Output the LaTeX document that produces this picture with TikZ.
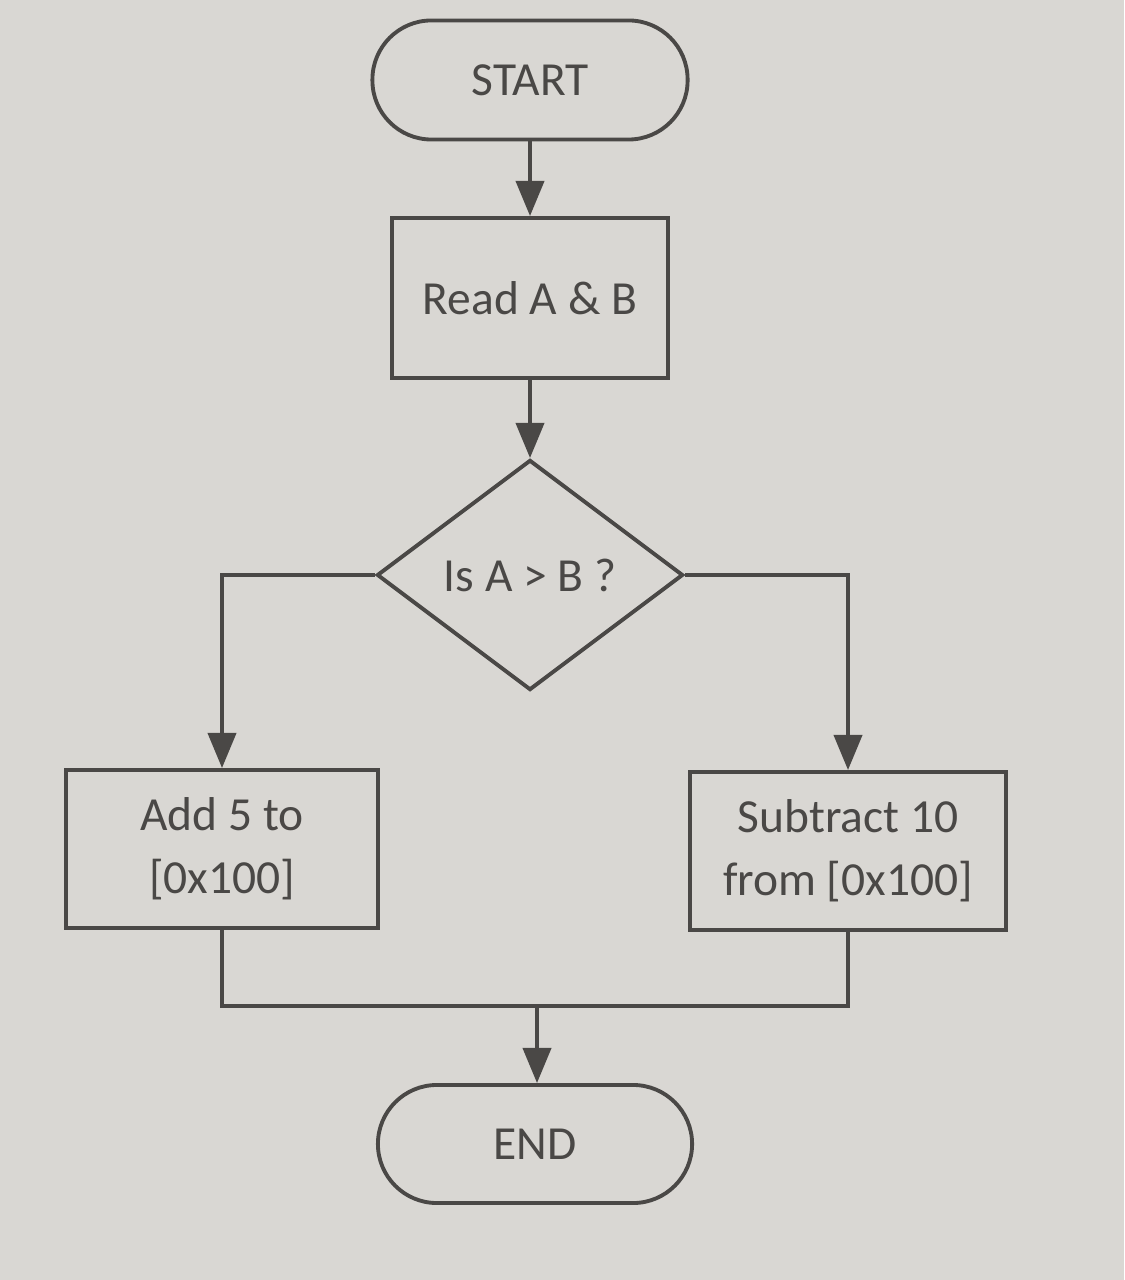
\documentclass[tikz,border=0pt]{standalone}
\usepackage{fontspec}
\setmainfont{Carlito}
\usetikzlibrary{shapes.geometric,arrows.meta}
\definecolor{bg}{HTML}{D9D7D3}
\definecolor{ln}{HTML}{4A4846}
\begin{document}
\begin{tikzpicture}[x=0.01cm,y=-0.01cm,
  every node/.style={font=\fontsize{13.5}{18}\selectfont, text=ln, align=center, inner sep=2pt},
  term/.style={draw=ln, line width=1.1pt, rectangle, rounded corners=0.59cm, minimum width=3.15cm, minimum height=1.19cm},
  proc/.style={draw=ln, line width=1.1pt, rectangle, minimum width=2.76cm, minimum height=1.6cm},
  dec/.style={draw=ln, line width=1.1pt, diamond, minimum width=3.06cm, minimum height=2.3cm, inner sep=0pt},
  conn/.style={draw=ln, line width=1.1pt},
  arr/.style={conn, -{Triangle[length=10pt,width=8pt]}}]
\fill[bg] (0,0) rectangle (1124,1280);
\useasboundingbox (0,0) rectangle (1124,1280);
\node[term] (start) at (530,80) {START};
\node[proc] (read) at (530,298) {Read A \& B};
\node[dec] (dec) at (530,575) {Is A > B ?};
\node[proc, minimum width=3.12cm, minimum height=1.58cm] (add) at (222,849) {Add 5 to\\{}[0x100]};
\node[proc, minimum width=3.16cm, minimum height=1.58cm] (sub) at (848,851) {Subtract 10\\from [0x100]};
\node[term, minimum width=3.14cm, minimum height=1.18cm] (end) at (535,1144) {END};
\coordinate (m) at (537,1006);
\draw[arr] (start) -- (read);
\draw[arr] (read) -- (dec);
\draw[arr] (dec.west) -| (add.north);
\draw[arr] (dec.east) -| (sub.north);
\draw[conn] (add.south) |- (m);
\draw[conn] (sub.south) |- (m);
\draw[arr] (m) -- (m |- end.north);
\end{tikzpicture}
\end{document}
